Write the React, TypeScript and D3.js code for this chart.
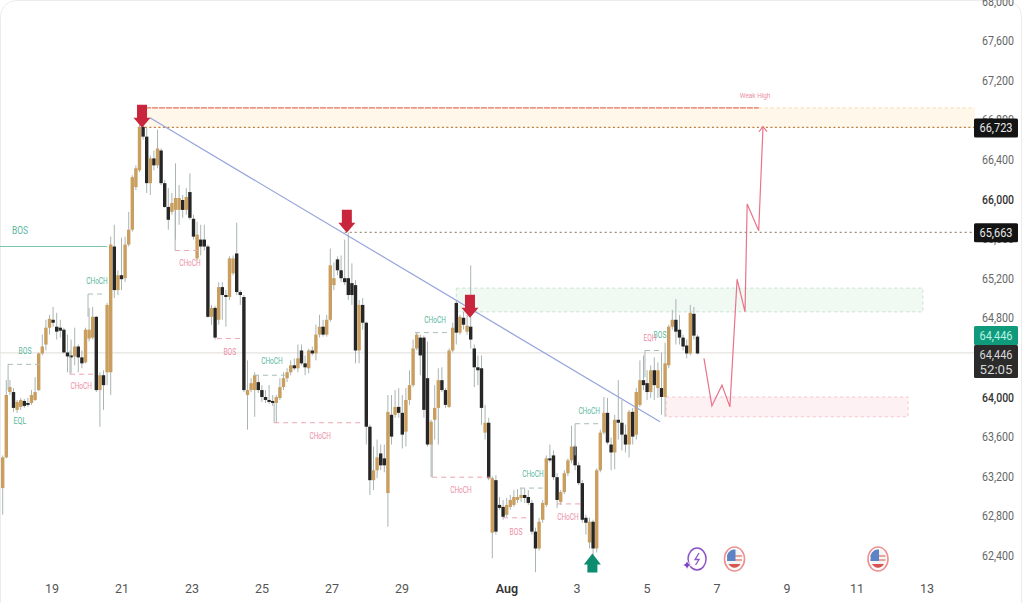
import * as d3 from 'd3';

const opens = [63080,63390,64050,64050,63870,63900,63960,63940,63940,63970,64070,64440,64530,64700,64780,64710,64700,64680,64450,64420,64410,64510,64400,64350,64590,64600,64810,64070,64220,64250,64250,65520,65080,65230,65200,65540,65690,66120,66290,66730,66630,66160,66410,66340,66490,66160,65920,65870,65890,65890,65990,65890,66070,65800,65400,65590,65590,65520,64810,64900,64780,65110,65030,65010,65250,65450,65060,65010,64020,64070,64070,64150,64070,64000,63970,63960,63940,63990,64100,64190,64250,64320,64290,64470,64340,64290,64470,64440,64630,64710,64630,64780,65130,65390,65280,65200,65200,65150,65130,64470,64930,64750,63700,63160,63260,63430,63380,63030,63820,63820,63900,63840,63650,63970,64120,64490,64600,64600,64190,63520,63770,63890,64170,64070,63900,64470,64950,64650,64800,64660,64710,64490,64300,64290,63640,63740,62630,63160,62910,62890,62810,62890,62910,62960,62980,63010,62990,62930,62640,62470,62760,62910,63380,63410,63190,62940,63040,63230,63360,63500,63310,63130,62780,62530,62740,62470,63260,63640,63840,63520,63440,63770,63740,63620,63520,63850,63620,63920,64170,64140,64050,64270,64090,64090,64000,64320,64710,64780,64680,64600,64520,64440,64840,64610];
const closes = [63390,64020,64100,63890,63950,63970,63910,63920,64020,64050,64440,64510,64700,64790,64750,64660,64670,64450,64410,64400,64510,64400,64340,64680,64680,64810,64070,64220,64120,64930,65540,65080,65230,65190,65540,65690,66220,66310,66730,66630,66160,66410,66340,66510,66160,65920,65790,65960,66010,66010,65890,66020,65810,65620,65640,65520,65520,64810,64900,64600,65110,65030,65010,65400,65400,65060,65030,64070,64070,64140,64220,64070,64000,63970,63950,63940,64000,64100,64190,64250,64320,64290,64390,64340,64300,64470,64440,64630,64710,64630,64780,65330,65200,65280,65200,65160,65030,65030,64470,64930,64750,63700,63160,63260,63390,63310,63310,63850,63600,63900,63840,63620,63970,64120,64490,64630,64420,63870,63520,63750,63890,64170,64070,63920,64470,64700,64650,64810,64730,64720,64580,64300,64270,63890,63740,63180,63180,62640,62880,62790,62910,62960,62990,62990,63010,62980,62930,62640,62470,62740,62930,63380,63360,63190,62960,63040,63230,63360,63500,63310,63130,62760,62730,62740,62470,63260,63640,63840,63540,63440,63770,63740,63620,63520,63850,63600,64050,64170,64120,64050,64270,64120,64270,64000,64340,64710,64780,64660,64600,64510,64440,64850,64620,64440];
const highs = [63410,64170,64170,64090,63970,63990,63980,63990,64070,64200,64450,64630,64780,64830,64910,64850,64780,64700,64630,64580,64700,64530,64470,64700,64900,64910,64820,64250,64270,64950,65620,65740,65280,65610,65620,65870,66240,66340,66750,66780,66720,66440,66490,66700,66510,66190,66110,66060,66360,66140,66040,66110,66260,65840,65770,65740,65740,65540,64930,64920,65160,65160,65080,65420,65430,65760,65080,65030,64370,64190,64250,64220,64120,64070,64120,64020,64020,64190,64250,64290,64370,64390,64530,64530,64420,64490,64510,64730,64830,64780,64830,65500,65360,65420,65430,65590,65660,65350,65180,64980,65000,64760,63720,63500,63570,63520,63520,64020,64020,64070,64090,64020,64090,64270,64580,64650,64630,64620,64560,63770,64120,64290,64300,64090,64490,64750,64980,64830,64860,64830,65330,64530,64420,64420,63920,63790,63200,63210,62990,62960,62980,63010,63060,63070,63080,63080,63060,62960,62680,62780,62960,63410,63520,63460,63230,63060,63260,63380,63710,63520,63340,63160,62810,62780,62760,63280,63670,64000,63990,63590,63820,64170,63970,63720,63870,63890,64090,64370,64420,64270,64320,64400,64350,64450,64550,64730,64880,64990,64830,64630,64580,64930,64910,64630];
const lows = [62810,63380,64020,63850,63840,63870,63890,63900,63920,63960,64060,64420,64470,64630,64710,64580,64600,64440,64250,64240,64320,64250,64290,64340,64560,64580,64050,63700,63870,64120,64020,65000,65030,65080,65160,65520,65670,66090,66270,66600,66060,66040,66290,66310,66140,65910,65690,65840,65590,65740,65810,65840,65790,65590,65380,65430,65480,64800,64730,64580,64730,64780,64710,64980,65230,65030,64930,64050,63670,64050,63800,64040,63950,63940,63930,63910,63740,63970,64070,64150,64220,64270,64250,64320,64220,64240,64420,64370,64600,64610,64610,64760,65080,65230,65160,65130,64980,64930,64340,64340,64680,63520,63010,63060,63180,63260,63240,62690,63520,63790,63790,63480,63500,63920,64100,64470,64220,63790,63500,63190,63570,63520,64050,63890,63890,64450,64530,64630,64680,64630,64490,64100,64120,63720,63570,63160,62370,62610,62860,62760,62790,62860,62890,62930,62940,62930,62910,62610,62230,62450,62730,62890,63340,63160,62880,62910,63020,63200,63330,63260,63110,62730,62610,62470,62400,62430,63240,63620,63520,63260,63270,63570,63460,63440,63390,63520,63570,63900,64070,63970,63990,63970,63990,63820,63800,64290,64680,64530,64530,64470,64390,64420,64580,64430];

// y axis
const priceTicks = [68000,67600,67200,66800,66400,66000,65600,65200,64800,64400,64000,63600,63200,62800,62400];
const boldPrices = [66000,64000];
// x axis, days counted from Jul 1
const dayTicks = [19,21,23,25,27,29,32,34,36,38,40,42,44];
const dayLabels = ['19','21','23','25','27','29','Aug','3','5','7','9','11','13'];

// [from candle, to candle, price, price the left leg drops or rises to]
const greenLevels = [[1.5,10.4,64330,64070],[23.7,27.6,65040,64810],[69.8,78.4,64220,64220],[114.5,123.7,64650,64650],[143.7,150,63080,63080],[159,166,63730,63410],[178.4,182.6,64470,64200]];
const redLevels = [[18.7,25.1,64230,64470],[47.9,54.8,65480,65890],[59.5,65.9,64590,64590],[75.4,100.6,63740,63940],[119.3,135.4,63190,63570],[139,145.6,62780,62780],[154,160.4,62920,62920]];

const greenTexts = ['BOS','CHoCH','BOS','EQL','CHoCH','CHoCH','CHoCH','CHoCH','BOS'];
const greenIdx = [4.8,26.2,6.2,4.8,74.8,120.1,147.3,162.9,182.6];
const greenPrices = [65680,65170,64460,63760,64360,64780,63220,63860,64630];
const redTexts = ['CHoCH','CHoCH','BOS','CHoCH','CHoCH','BOS','CHoCH','EQH','Weak High'];
const redIdx = [52,21.8,63.1,88.2,127.3,142.6,157,179.8,209];
const redPrices = [65350,64110,64450,63610,63060,62640,62790,64600,67050];

// forecast path
const pathIdx = [194.8,197,199.8,202,204,206.2,206.8,210,211.2];
const pathPrices = [64390,63910,64120,63900,65190,64860,65950,65680,66730];

const downArrowIdx = [38.7,95.6,129.8];
const downArrowPrices = [66720,65660,64800];
const upArrowIdx = [163.8];
const upArrowPrices = [62420];

const lastPrice = 64446;
const weakHigh = 66920;
const flagDays = [38.5,42.6];
const flashDay = 37.43;

const width = 1022;
const height = 603;

const y = d3.scaleLinear().domain([64000, 68000]).range([397, 1]);
const x = d3.scaleLinear().domain([0, 193]).range([2.7, 697.5]);
const dayX = d3.scaleLinear().domain([19, 44]).range([52, 927]);

const linePath = d3.line<number>().x((_, i) => x(pathIdx[i])).y(d => y(d));

const UP = '#c99e5e';
const DOWN = '#262626';
const WICK = '#a9b5b3';
const GREEN = '#58b79c';
const RED = '#ec8ea4';
const axisFont = 'Roboto, sans-serif';

const Label = ({ t, i, p, color, big }: { t: string; i: number; p: number; color: string; big?: boolean }) => (
  <text x={x(i)} y={y(p) + 3} textAnchor="middle" fontFamily={axisFont} fontSize={t === 'Weak High' ? 7 : big ? 10.5 : 9}
    fill={color} textLength={big ? 16 : t.length * (t === 'Weak High' ? 3.4 : 4.3)} lengthAdjust="spacingAndGlyphs">{t}</text>
);

const Level = ({ d, color }: { d: number[]; color: string }) => (
  <g fill="none" strokeWidth={1}>
    <line x1={x(d[0])} x2={x(d[0])} y1={y(d[3])} y2={y(d[2])} stroke={WICK} />
    <line x1={x(d[0])} x2={x(d[1])} y1={y(d[2])} y2={y(d[2])} stroke={color} strokeDasharray="5 4" />
  </g>
);

const Badge = ({ top, h, fill, lines, color }: { top: number; h: number; fill: string; lines: string[]; color: string }) => (
  <g>
    <rect x={974} y={top} width={44} height={h} rx={1.5} fill={fill} />
    {lines.map((l, i) => (
      <text key={i} x={996} y={top + 13.5 + i * 15.5} textAnchor="middle" fontFamily={axisFont} fontSize={12.5} fill={color}
        textLength={33} lengthAdjust="spacingAndGlyphs">{l}</text>
    ))}
  </g>
);

const UsFlag = ({ cx }: { cx: number }) => (
  <g transform={`translate(${cx},559)`}>
    <ellipse rx={10} ry={12} fill="#fff" stroke="#ef8f8f" strokeWidth={1.6} />
    <ellipse rx={7.6} ry={9.6} fill="#f4f4f4" />
    <path d="M-7.4,-3h15M-7.4,1h15" stroke="#e38a80" strokeWidth={1.5} />
    <path d="M-6,5h12a7.6,9.6 0 0 1 -12,0z" fill="#d9534f" />
    <path d="M-7.4,2V-4A7.6,9.6 0 0 1 1,-9.4V2z" fill="#5b84c4" />
  </g>
);

const App = () => {
  const orangeLeft = x(39.5);
  const top = y(weakHigh);
  const peak = y(66723);
  const greenTop = y(65100);
  const greenBottom = y(64860);
  const redTop = y(64000);
  const redBottom = y(63800);

  return (
    <svg width={width} height={height} style={{ position: 'absolute', left: 0, top: 0, display: 'block' }}>
      <defs>
        <filter id="soft" x="-5%" y="-5%" width="110%" height="110%">
          <feGaussianBlur stdDeviation="0.4" />
        </filter>
      </defs>
      <rect x={0.5} y={0.5} width={width - 1} height={height + 20} rx={16} fill="#fff" stroke="#ececec" />

      <g filter="url(#soft)">
        {/* zones */}
        <rect x={orangeLeft} y={top} width={975 - orangeLeft} height={peak - top} fill="#fff7ea" />
        <path d={`M${x(210)},${top}H975`} stroke="#f5d9b0" strokeDasharray="3 3" />
        <rect x={x(126)} y={greenTop} width={x(255.6) - x(126)} height={greenBottom - greenTop} fill="#f1f9f3" stroke="#c6e3d0" strokeDasharray="3 3" />
        <rect x={x(184.3)} y={redTop} width={x(251.5) - x(184.3)} height={redBottom - redTop} fill="#fdf1f3" stroke="#f5c6cd" strokeDasharray="3 3" />

        {/* last price line */}
        <line x1={0} x2={975} y1={y(lastPrice)} y2={y(lastPrice)} stroke="#e6e3df" strokeWidth={1.2} />

        {/* candles */}
        {opens.map((o, i) => (
          <line key={`w${i}`} x1={x(i)} x2={x(i)} y1={y(highs[i])} y2={y(lows[i])} stroke={WICK} strokeWidth={1} />
        ))}
        {opens.map((o, i) => {
          const c = closes[i];
          return (
            <rect key={`b${i}`} x={x(i) - 1.7} width={3.4} y={y(Math.max(o, c))} height={Math.max(1.4, Math.abs(y(o) - y(c)))}
              fill={c >= o ? UP : DOWN} />
          );
        })}

        {/* levels */}
        <line x1={0} x2={x(29)} y1={y(65520)} y2={y(65520)} stroke="#7cc4ac" strokeWidth={1.1} />
        {greenLevels.map((d, i) => <Level key={i} d={d} color="#a5bdb5" />)}
        {redLevels.map((d, i) => <Level key={i} d={d} color="#eba6b2" />)}
        <line x1={orangeLeft} x2={x(210)} y1={top} y2={top} stroke="#e2705c" strokeWidth={1.3} strokeDasharray="6 1" />
        <line x1={orangeLeft} x2={975} y1={peak} y2={peak} stroke="#bf7f3e" strokeWidth={1.2} strokeDasharray="2 2.5" />
        <line x1={x(95)} x2={975} y1={y(65663)} y2={y(65663)} stroke="#a08a78" strokeWidth={1.1} strokeDasharray="2 3" />

        {/* trend line */}
        <line x1={x(40.9)} x2={x(182.6)} y1={y(66820)} y2={y(63750)} stroke="#97a5dc" strokeWidth={1.2} />

        {/* forecast */}
        <path d={linePath(pathPrices) ?? ''} fill="none" stroke="#e9738a" strokeWidth={1.2} />
        <path d={`M${x(211.2) - 4},${y(66730) + 5}L${x(211.2)},${y(66730)}L${x(211.2) + 4},${y(66730) + 5}`} fill="none" stroke="#e9738a" strokeWidth={1.2} />

        {/* arrows */}
        {downArrowIdx.map((d, i) => (
          <path key={i} transform={`translate(${x(d)},${y(downArrowPrices[i])})`} d="M0,0L-8.5,-10H-5V-23H5V-10H8.5Z" fill="#c9283e" />
        ))}
        {upArrowIdx.map((d, i) => (
          <path key={i} transform={`translate(${x(d)},${y(upArrowPrices[i])})`} d="M0,0L8.5,11H5V19H-5V11H-8.5Z" fill="#0d8c70" />
        ))}

        {/* events */}
        <g transform={`translate(${dayX(flashDay)},559)`} fill="none" stroke="#8b54c9" strokeWidth={1.5}>
          <ellipse rx={9} ry={11} />
          <path d="M2,-6L-2,0.5H2L-1.5,6" strokeWidth={1.3} />
          <path d="M-10,1.5L-8.5,4.5L-5.5,6L-8.5,7.5L-10,10.5L-11.5,7.5L-14.5,6L-11.5,4.5Z" fill="#7a45c4" stroke="#fff" strokeWidth={0.8} />
        </g>
        {flagDays.map(d => <UsFlag key={d} cx={dayX(d)} />)}
      </g>

      {/* annotations */}
      {greenTexts.map((t, i) => <Label key={i} t={t} i={greenIdx[i]} p={greenPrices[i]} color={GREEN} big={i === 0} />)}
      {redTexts.map((t, i) => <Label key={i} t={t} i={redIdx[i]} p={redPrices[i]} color={RED} />)}

      {/* axes */}
      {priceTicks.map(p => (
        <text key={p} x={998} y={y(p) + 4.5} textAnchor="middle" fontFamily={axisFont} fontSize={12.5}
          fontWeight={boldPrices.includes(p) ? 500 : 400} fill={boldPrices.includes(p) ? '#333' : '#666'}
          textLength={32} lengthAdjust="spacingAndGlyphs">{d3.format(',')(p)}</text>
      ))}
      {dayTicks.map((d, i) => (
        <text key={d} x={dayX(d)} y={593} textAnchor="middle" fontFamily={axisFont} fontSize={12.5}
          fontWeight={dayLabels[i] === 'Aug' ? 600 : 400} fill={dayLabels[i] === 'Aug' ? '#333' : '#555'}>{dayLabels[i]}</text>
      ))}

      <Badge top={y(66723) - 9} h={19} fill="#141414" color="#e8e8e8" lines={['66,723']} />
      <Badge top={y(65663) - 9} h={19} fill="#141414" color="#e8e8e8" lines={['65,663']} />
      <Badge top={326} h={19} fill="#0f9a7c" color="#b9f2e3" lines={['64,446']} />
      <Badge top={345} h={33} fill="#2b2b2b" color="#d8d8d8" lines={['64,446', '52:05']} />
    </svg>
  );
};

export default App;
